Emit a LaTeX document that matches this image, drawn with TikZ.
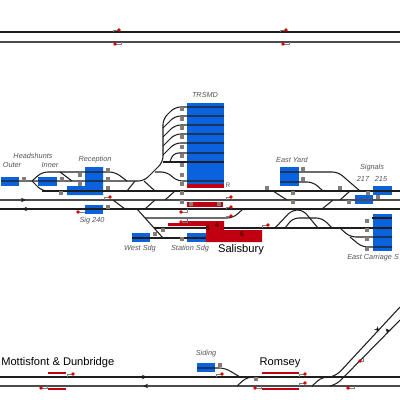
\documentclass[tikz,border=0pt]{standalone}
\usepackage{fontspec}
\setmainfont{Liberation Sans}
\usetikzlibrary{arrows.meta}
\definecolor{sarumblue}{HTML}{0A62DC}
\definecolor{sarumred}{HTML}{C00010}
\definecolor{sarumrail}{HTML}{1E1E1E}
\definecolor{sarumgrey}{HTML}{857C78}
\definecolor{sarumtext}{HTML}{555555}
\begin{document}
\begin{tikzpicture}[x=0.025cm,y=-0.025cm,
  trk/.style={draw=sarumrail,line width=0.75pt,rounded corners=4pt},
  mainline/.style={draw=sarumrail!80,line width=1.05pt},
  road/.style={draw=none,fill=sarumblue},
  plat/.style={draw=none,fill=sarumred},
  nameit/.style={font=\fontsize{5.2}{6}\selectfont\itshape,text=sarumtext,inner sep=0pt},
  digit/.style={font=\fontsize{4.6}{6}\selectfont,inner sep=0pt},
  place/.style={font=\fontsize{7.9}{10}\selectfont,text=black,inner sep=0pt},
  lock/.style={draw=none,fill=sarumgrey,minimum width=3.4pt,minimum height=3.2pt,inner sep=0pt},
  sigdot/.style={circle,draw=none,fill=red!85!black,minimum size=2.8pt,inner sep=0pt},
  stub/.style={draw=gray,line width=0.3pt},
  dirn/.style={draw=sarumrail,line width=0.6pt,-{Stealth[length=3.6pt,width=3.2pt]}}
]
\useasboundingbox (0,0) rectangle (400,400);
\fill[white] (0,0) rectangle (400,400);
\fill[road] (1,177) rectangle (19,186);
\fill[road] (38,177) rectangle (57,186);
\fill[road] (85,167) -- (103,167) -- (103,195) -- (67,195) -- (67,186) -- (85,186) -- cycle;
\fill[road] (85,205) rectangle (103,214);
\fill[road] (187,103) rectangle (224,184);
\fill[plat] (187,184) rectangle (224,188);
\fill[road] (132,233) rectangle (150,242);
\fill[road] (187,233) rectangle (206,242);
\fill[road] (280,167) rectangle (299,186);
\fill[road] (355,195) rectangle (373,204);
\fill[road] (373,186) rectangle (392,195);
\fill[road] (373,214) rectangle (392,251);
\fill[road] (197,363) rectangle (215,372);
\foreach \y in {42,200,386}
  \draw[mainline] (0,\y) -- (400,\y);
\foreach \y in {32,209,377}
  \draw[trk] (0,\y) -- (400,\y);
\draw[trk] (42,191) -- (400,191);
\draw[trk] (1,181) -- (144,181) -- (163,162) -- (163,119) -- (175,107) -- (224,107);
\draw[trk] (32,181) -- (42,172) -- (115,172) -- (127,181);
\draw[trk] (60,172) -- (72,181);
\draw[trk] (32,181) -- (42,191) -- (50,191);
\draw[trk] (127,191) -- (135,181);
\draw[trk] (144,181) -- (155,191);
\draw[trk] (155,172) -- (167,172) -- (177,181) -- (224,181);
\draw[trk] (163,162) -- (224,162);
\draw[trk] (170,162) -- (173,153) -- (224,153);
\foreach \y in {143,134,125,116}
  \draw[trk] (163,\y+12) -- (175,\y) -- (224,\y);
\draw[trk] (113,200) -- (125,209);
\draw[trk] (145,209) -- (155,200);
\draw[trk] (165,200) -- (175,191);
\draw[trk] (137,209) -- (163,238);
\draw[trk] (145,218) -- (233,218) -- (243,209);
\draw[trk] (154,228) -- (208,228);
\draw[trk] (132,238) -- (206,238);
\draw[trk] (224,228) -- (392,228);
\draw[trk] (275,228) -- (292,210) -- (303,210) -- (318,228);
\draw[trk] (285,228) -- (293,218) -- (322,218) -- (332,228);
\draw[trk] (340,228) -- (350,237) -- (392,237);
\draw[trk] (350,237) -- (362,247) -- (392,247);
\draw[trk] (372,218) -- (392,218);
\draw[trk] (273,191) -- (287,200);
\draw[trk] (322,209) -- (333,200);
\draw[trk] (340,200) -- (350,191);
\draw[trk] (280,172) -- (338,172) -- (360,191);
\draw[trk] (280,182) -- (313,182) -- (323,191);
\draw[trk] (197,368) -- (225,368) -- (240,377);
\draw[trk] (237,386) -- (247,377) -- (250,377);
\draw[trk] (312,386) -- (322,377) -- (325,377);
\draw[trk] (330,377) -- (337,375) -- (400,307);
\draw[trk] (330,386) -- (337,384) -- (400,320);
\fill[plat] (168,223) -- (183,223) -- (183,221) -- (224,221) -- (224,230) -- (262,230) -- (262,242) -- (206,242) -- (206,226) -- (168,226) -- cycle;
\fill[plat] (187,202) rectangle (223,207);
\foreach \x/\y/\w in {48/373/66,48/389/66,262/373/299,262/389/299}
  \fill[plat] (\x,\y-1) rectangle (\w,\y+1);
\foreach \x/\y/\r in {24/200/0,24/209/180,145/377/0,145/386/180,378/330/-47,387/330/133}
  \draw[dirn,rotate around={\r:(\x,\y)}] (\x-2,\y) -- (\x+2,\y);
\foreach \x/\y in {24/179,62/179,108/170,80/175,108/179,80/184,108/188,61/193,108/207,
  182/109,182/119,182/128,182/137,182/147,182/156,182/165,182/175,182/184,182/193,182/202,
  191/204,219/204,
  163/230,155/234,182/239,267/188,293/193,293/202,340/188,303/169,303/179,368/193,378/197,
  349/202,367/221,367/230,367/239,367/249,220/365,256/379}
  \node[lock] at (\x,\y) {};
\foreach \x/\y/\u/\v in {119/30/-6/2,115/44/6/-2,286/30/-6/2,283/44/6/-2,110/197/-6/3,78/212/7/0,
  231/197/-5/3,231/207/-5/2,231/216/-5/2,181/212/6/-3,181/222/6/-3,268/225/-6/3,
  73/374/-6/3,41/388/6/-2,222/374/-6/3,305/374/-6/3,305/383/-6/3,255/388/6/-2,348/388/6/-2,360/361/3/-3}{
  \draw[stub] (\x,\y) -- (\x+\u,\y) -- (\x+\u,\y+\v);
  \node[sigdot] at (\x,\y) {};
}
\node[nameit] (headshunts) at (33,156) {Headshunts};
\node[nameit] (outer) at (12,165) {Outer};
\node[nameit] (inner) at (50,165) {Inner};
\node[nameit] (reception) at (95,160) {Reception};
\node[nameit] (sigtwo) at (92,221) {Sig 240};
\node[nameit] (trsmd) at (205,95) {TRSMD};
\node[nameit] (eastyard) at (292,160) {East Yard};
\node[nameit] (signals) at (372,168) {Signals};
\node[nameit] (sigleft) at (363,179) {217};
\node[nameit] (sigright) at (381,179) {215};
\node[nameit] (westsdg) at (140,249) {West Sdg};
\node[nameit] (stationsdg) at (190,249) {Station Sdg};
\node[nameit,anchor=west] (eastcarriage) at (347,258) {East Carriage S};
\node[nameit] (siding) at (206,354) {Siding};
\node[digit,text=sarumtext] (rmark) at (228,185) {R};
\node[place] (salisbury) at (241,250) {Salisbury};
\node[place,anchor=west] (mottisfont) at (1,363) {Mottisfont \& Dunbridge};
\node[place] (romsey) at (280,363) {Romsey};
\node[digit] (five) at (208,228) {5};
\node[digit] (four) at (217,225) {4};
\node[digit] (six) at (242,234) {6};
\end{tikzpicture}
\end{document}
